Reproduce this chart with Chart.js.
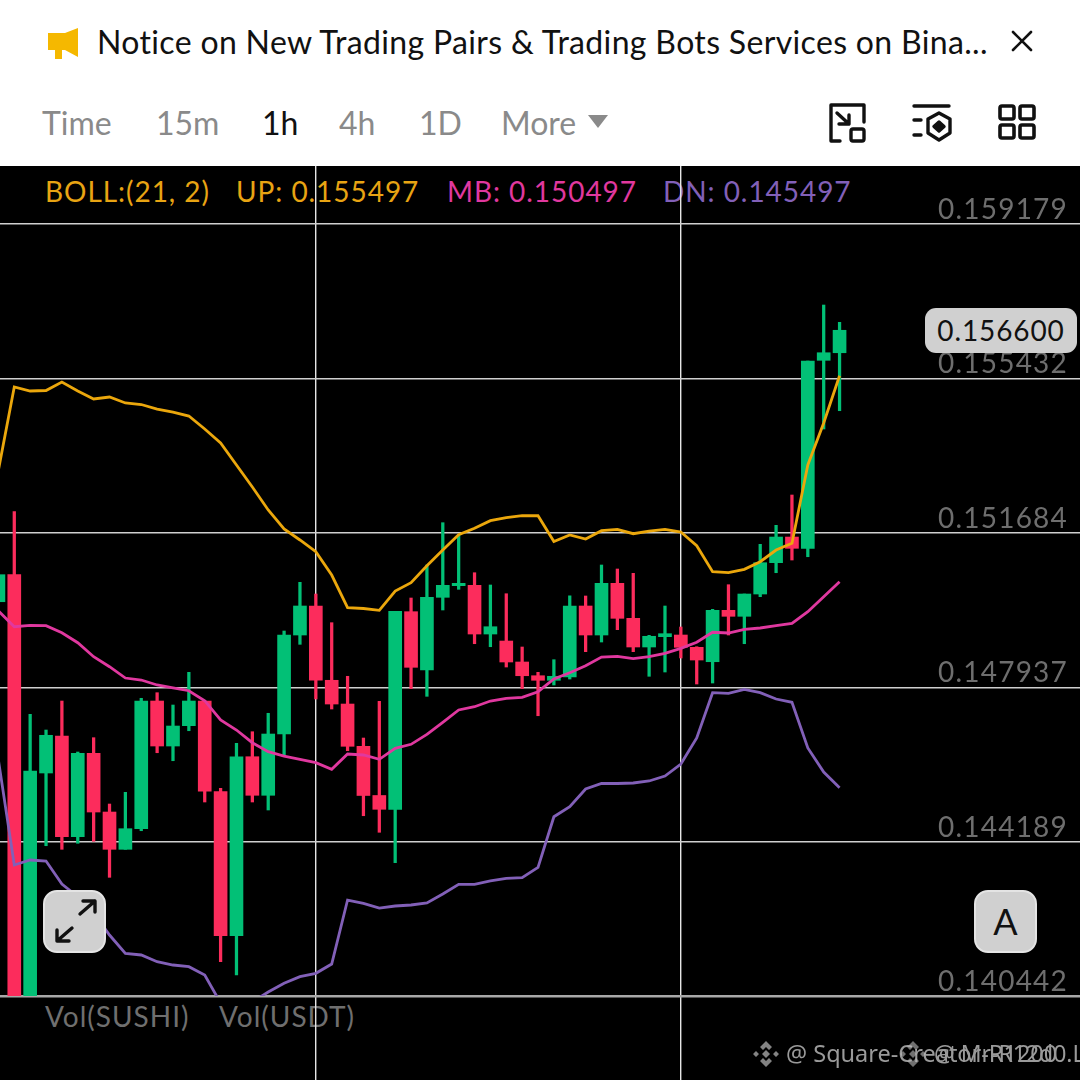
<!DOCTYPE html>
<html>
<head>
<meta charset="utf-8">
<title>SUSHI/USDT 1h</title>
<script src="https://cdn.jsdelivr.net/npm/chart.js@4/dist/chart.umd.min.js"></script>
<style>
  html, body { margin: 0; padding: 0; background: #fff; }
  body { width: 1080px; height: 1080px; position: relative; overflow: hidden; font-family: Lato, sans-serif; }
  .abs { position: absolute; white-space: nowrap; line-height: 1; }
  #pane { position: absolute; left: 0; top: 166px; width: 1080px; height: 914px; background: #000; }
  #myChart { position: absolute; left: 0; top: 166px; }
  .tab { top: 107px; font-size: 32px; color: #8a8a8a; }
  .boll { top: 177px; font-size: 28px; letter-spacing: 0.95px; }
  .vol { top: 1002px; font-size: 28px; color: #6f6f6f; letter-spacing: 1px; }
  .btn { position: absolute; top: 890px; width: 59px; height: 59px; border: 2px solid #e4e4e4; border-radius: 14px; background: #d0d0d0; }
  .mark { top: 1042px; font-size: 24px; color: #9a9a9a; font-family: "Noto Sans", sans-serif; }
</style>
</head>
<body>
  <svg class="abs" style="left:47px;top:27px" width="32" height="32" viewBox="0 0 32 32">
    <path d="M1 6h17L31 1v29l-13-7h-3v9H8v-9H1z" fill="#f5b800"/>
  </svg>
  <div class="abs" style="left:97px;top:26px;font-size:32px;letter-spacing:0.34px;color:#111">Notice on New Trading Pairs &amp; Trading Bots Services on Bina...</div>
  <svg class="abs" style="left:1011px;top:30px" width="22" height="22" viewBox="0 0 22 22">
    <path d="M2 2l18 18M20 2L2 20" stroke="#111" stroke-width="2.6" stroke-linecap="round"/>
  </svg>

  <div class="abs tab" style="left:42px">Time</div>
  <div class="abs tab" style="left:156px">15m</div>
  <div class="abs tab" style="left:262px;color:#111">1h</div>
  <div class="abs tab" style="left:339px">4h</div>
  <div class="abs tab" style="left:419px">1D</div>
  <div class="abs tab" style="left:501px">More</div>
  <svg class="abs" style="left:588px;top:115px" width="20" height="14" viewBox="0 0 20 14"><path d="M0 0h20L10 13z" fill="#8a8a8a"/></svg>

  <svg class="abs" style="left:826px;top:101px" width="44" height="44" viewBox="0 0 44 44" fill="none" stroke="#111" stroke-width="3.4" stroke-linejoin="round" stroke-linecap="round">
    <path d="M14 40H5V4h33v17"/>
    <rect x="25" y="28" width="13" height="12" rx="2"/>
    <path d="M11 12l12 11M23 14v9H13"/>
  </svg>
  <svg class="abs" style="left:910px;top:101px" width="44" height="44" viewBox="0 0 44 44" fill="none" stroke="#111" stroke-width="3.4" stroke-linecap="round" stroke-linejoin="round">
    <path d="M4 5h35M4 19h7M4 34h7"/>
    <path d="M29 12l11 6v14l-11 7-11-7V18z"/>
    <path d="M29 21l5 4.500-5 4.500-5-4.500z" fill="#111"/>
  </svg>
  <svg class="abs" style="left:997px;top:101px" width="42" height="42" viewBox="0 0 42 42" fill="none" stroke="#111" stroke-width="3.6" stroke-linejoin="round">
    <rect x="3" y="5" width="14" height="13" rx="2"/>
    <rect x="23" y="5" width="14" height="13" rx="2"/>
    <rect x="3" y="24" width="14" height="13" rx="2"/>
    <rect x="23" y="24" width="14" height="13" rx="2"/>
  </svg>

  <div id="pane"></div>
  <div class="abs boll" style="left:45px;color:#e8a413">BOLL:(21, 2)</div>
  <div class="abs boll" style="left:236px;color:#e8a413">UP: 0.155497</div>
  <div class="abs boll" style="left:447px;color:#e0389f">MB: 0.150497</div>
  <div class="abs boll" style="left:663px;color:#8260b8">DN: 0.145497</div>
  <div class="abs vol" style="left:45px">Vol(SUSHI)</div>
  <div class="abs vol" style="left:219px">Vol(USDT)</div>

  <canvas id="myChart" width="1080" height="914"></canvas>

  <div class="abs" style="left:925px;top:308px;width:152px;height:45px;background:#d0d0d0;border-radius:11px;color:#111;font-size:28px;letter-spacing:0.9px;line-height:45px;text-align:center">0.156600</div>

  <div class="btn" style="left:43px">
    <svg width="59" height="59" viewBox="0 0 59 59" fill="none" stroke="#111" stroke-width="3.4" stroke-linecap="round" stroke-linejoin="round">
      <path d="M35 22l15-13M38 9h12v11M27 36L12 49M12 38v11h12"/>
    </svg>
  </div>
  <div class="btn" style="left:974px">
    <div style="text-align:center;line-height:59px;font-size:36px;color:#111">A</div>
  </div>

  <svg class="abs" style="left:752px;top:1040px;opacity:.7" width="28" height="28" viewBox="0 0 28 28" fill="#bbb">
    <path d="M14 1l6 6-3 3-3-3-3 3-3-3zM1 14l3-3 3 3-3 3zM21 14l3-3 3 3-3 3zM14 10l4 4-4 4-4-4zM14 27l-6-6 3-3 3 3 3-3 3 3z"/>
  </svg>
  <div class="abs mark" style="left:786px;font-size:23.5px">@ Square-Creator-R1200</div>
  <svg class="abs" style="left:899px;top:1040px;opacity:.6" width="28" height="28" viewBox="0 0 28 28" fill="#bbb">
    <path d="M14 1l6 6-3 3-3-3-3 3-3-3zM1 14l3-3 3 3-3 3zM21 14l3-3 3 3-3 3zM14 10l4 4-4 4-4-4zM14 27l-6-6 3-3 3 3 3-3 3 3z"/>
  </svg>
  <div class="abs mark" style="left:934px;font-size:23px">@ Mr-R12d0.L</div>

<script>
// candle position, -1 is the one cut off by the left edge
const candles = [-1,0,1,2,3,4,5,6,7,8,9,10,11,12,13,14,15,16,17,18,19,20,21,22,23,24,25,26,
  27,28,29,30,31,32,33,34,35,36,37,38,39,40,41,42,43,44,45,46,47,48,49,50,51,52]

const opens = [0.150012,0.150668,0.140054,0.145855,0.146753,0.144309,0.146333,0.144908,0.144003,0.144503,
  0.147602,0.146510,0.147003,0.147602,0.145406,0.141906,0.146250,0.145314,0.146801,0.149204,
  0.149908,0.148105,0.147529,0.146503,0.145309,0.144974,0.149770,0.148355,0.150119,0.150401,
  0.150410,0.149228,0.149058,0.148549,0.148216,0.148105,0.148185,0.149908,0.149204,0.150459,
  0.149609,0.148913,0.149163,0.149204,0.148905,0.148556,0.149803,0.149658,0.150199,0.150959,
  0.151582,0.151308,0.155871,0.156055]

const closes = [0.150668,0.140103,0.145903,0.146770,0.144309,0.146333,0.144908,0.144003,0.144503,0.147602,
  0.146510,0.146995,0.147602,0.145411,0.141906,0.146250,0.145314,0.146801,0.149204,0.149908,
  0.148105,0.147529,0.146503,0.145309,0.144974,0.149779,0.148420,0.150119,0.150410,0.150459,
  0.149228,0.149405,0.148549,0.148216,0.148105,0.148202,0.149908,0.149204,0.150459,0.149609,
  0.148913,0.149173,0.149236,0.148905,0.148597,0.149803,0.149658,0.150199,0.150959,0.151582,
  0.151308,0.155854,0.156055,0.156600]

const highs = [0.150668,0.152197,0.147279,0.146898,0.147602,0.146364,0.146712,0.145102,0.145386,0.147668,
  0.147804,0.147505,0.148299,0.147610,0.145483,0.146576,0.146857,0.147304,0.149301,0.150483,
  0.150199,0.149503,0.148202,0.146704,0.147595,0.149779,0.150102,0.150903,0.151930,0.151631,
  0.150716,0.150418,0.150206,0.148913,0.148299,0.148605,0.150155,0.150151,0.150903,0.150806,
  0.150701,0.149197,0.149908,0.149398,0.148920,0.149828,0.150425,0.150199,0.151405,0.151866,
  0.152602,0.155854,0.157213,0.156793]

const lows = [0.150012,0.139860,0.139860,0.144090,0.144003,0.144149,0.144197,0.143323,0.144003,0.144454,
  0.146347,0.146153,0.146881,0.145151,0.141275,0.140952,0.145151,0.144957,0.146292,0.148978,
  0.147651,0.147408,0.146396,0.144818,0.144416,0.143678,0.147901,0.147716,0.149811,0.150313,
  0.148993,0.148920,0.148427,0.147901,0.147245,0.147991,0.148136,0.148799,0.149034,0.149333,
  0.148799,0.148202,0.148306,0.148646,0.148015,0.148039,0.149204,0.148993,0.150134,0.150716,
  0.151024,0.151104,0.154204,0.154648]

const bollUp = [0.153209,0.155223,0.155126,0.155138,0.155344,0.155126,0.154932,0.154980,0.154835,0.154798,
  0.154689,0.154616,0.154519,0.154204,0.153864,0.153330,0.152796,0.152238,0.151777,0.151510,
  0.151226,0.150660,0.149867,0.149847,0.149803,0.150272,0.150473,0.150886,0.151267,0.151638,
  0.151794,0.151978,0.152051,0.152099,0.152099,0.151473,0.151631,0.151534,0.151735,0.151769,
  0.151663,0.151728,0.151769,0.151704,0.151371,0.150740,0.150716,0.150799,0.150983,0.151267,
  0.151430,0.153330,0.154349,0.155497]

const bollMid = [0.149787,0.149405,0.149439,0.149430,0.149260,0.149017,0.148677,0.148435,0.148160,0.148112,
  0.147991,0.147918,0.147852,0.147609,0.147141,0.146898,0.146590,0.146372,0.146267,0.146187,
  0.146105,0.145945,0.146316,0.146292,0.146187,0.146454,0.146551,0.146794,0.147085,0.147384,
  0.147464,0.147602,0.147668,0.147692,0.147828,0.148136,0.148289,0.148459,0.148670,0.148687,
  0.148629,0.148677,0.148760,0.148881,0.149027,0.149270,0.149253,0.149342,0.149374,0.149430,
  0.149488,0.149770,0.150134,0.150497]

const bollDn = [0.146170,0.143622,0.143743,0.143719,0.143161,0.142853,0.142457,0.141923,0.141479,0.141438,
  0.141275,0.141195,0.141154,0.140952,0.140273,0.140200,0.140297,0.140540,0.140751,0.140911,
  0.140993,0.141219,0.142772,0.142692,0.142578,0.142627,0.142651,0.142700,0.142918,0.143154,
  0.143154,0.143234,0.143299,0.143314,0.143566,0.144794,0.145037,0.145466,0.145600,0.145600,
  0.145612,0.145661,0.145782,0.146073,0.146704,0.147804,0.147789,0.147886,0.147804,0.147651,
  0.147571,0.146462,0.145879,0.145497]

const priceTicks = [0.140442,0.144189,0.147937,0.151684,0.155432,0.159179]
const timeTicks = [19,42]

const GREEN = '#02c076'
const RED = '#fc2c5c'
// main pane stops here, the volume pane below it is empty
const paneClip = { left: 0, top: 0, right: 0, bottom: -84 }

const candleColors = candles.map((c, i) => closes[i] >= opens[i] ? GREEN : RED)

const lineSet = (label, values, color) => ({
  type: 'line',
  label: label,
  data: candles.map((c, i) => ({ x: c, y: values[i] })),
  borderColor: color,
  borderWidth: 2.8,
  pointRadius: 0,
  tension: 0,
  order: 0,
  clip: paneClip
})

// the axis labels are wider spaced than the font gives
const spacedLabels = {
  id: 'spacedLabels',
  beforeDraw: (chart) => { chart.ctx.letterSpacing = '1.2px' }
}

const ctx = document.getElementById('myChart').getContext('2d')
const myChart = new Chart(ctx, {
  type: 'bar',
  plugins: [spacedLabels],
  data: {
    datasets: [
      lineSet('UP', bollUp, '#eba70c'),
      lineSet('MB', bollMid, '#e0389f'),
      lineSet('DN', bollDn, '#8260b8'),
      {
        label: 'body',
        data: candles.map((c, i) => ({ x: c, y: [opens[i], closes[i]] })),
        backgroundColor: candleColors,
        barThickness: 13,
        grouped: false,
        borderSkipped: false,
        order: 1,
        clip: paneClip
      },
      {
        label: 'wick',
        data: candles.map((c, i) => ({ x: c, y: [lows[i], highs[i]] })),
        backgroundColor: candleColors,
        barThickness: 2.6,
        grouped: false,
        borderSkipped: false,
        order: 2,
        clip: paneClip
      }
    ]
  },
  options: {
    responsive: false,
    animation: false,
    devicePixelRatio: 1,
    layout: { padding: 0 },
    plugins: { legend: { display: false }, tooltip: { enabled: false } },
    scales: {
      x: {
        type: 'linear',
        min: -0.9,
        max: 67.15,
        offset: false,
        border: { display: false },
        grid: { offset: false, color: '#e6e6e6', lineWidth: 1.4, drawTicks: false },
        ticks: { display: false },
        afterBuildTicks: (axis) => { axis.ticks = timeTicks.map(v => ({ value: v })) },
        afterFit: (axis) => { axis.height = 0 }
      },
      y: {
        position: 'right',
        min: 0.138404,
        max: 0.160587,
        border: { display: false },
        grid: {
          drawTicks: false,
          color: (c) => c.tick && c.tick.value === priceTicks[0] ? '#a8a8a8' : '#cfcfcf',
          lineWidth: (c) => c.tick && c.tick.value === priceTicks[0] ? 2.6 : 1.4
        },
        ticks: {
          mirror: true,
          padding: -12,
          labelOffset: -14,
          autoSkip: false,
          color: '#6e6e6e',
          font: { family: 'Lato', size: 28 },
          callback: (v) => v.toFixed(6)
        },
        afterBuildTicks: (axis) => { axis.ticks = priceTicks.map(v => ({ value: v })) },
        afterFit: (axis) => {
          axis.width = 0
          axis.paddingTop = 0
          axis.paddingBottom = 0
        }
      }
    }
  }
})
</script>
</body>
</html>
